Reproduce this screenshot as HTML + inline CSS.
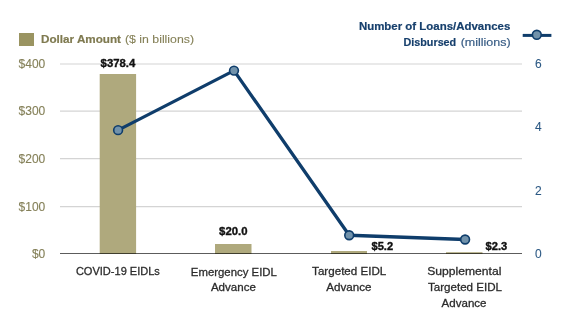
<!DOCTYPE html>
<html><head><meta charset="utf-8">
<style>
html,body{margin:0;padding:0;background:#fff;}
body{width:562px;height:325px;overflow:hidden;}
svg{display:block;will-change:transform;font-family:"Liberation Sans",sans-serif;}
</style></head>
<body>
<svg width="562" height="325" viewBox="0 0 562 325">
<!-- gridlines -->
<g stroke="#d4d4d4" stroke-width="1.2">
<line x1="60" y1="64" x2="522" y2="64"/>
<line x1="60" y1="111.2" x2="522" y2="111.2"/>
<line x1="60" y1="158.7" x2="522" y2="158.7"/>
<line x1="60" y1="206.6" x2="522" y2="206.6"/>
</g>
<!-- bars -->
<g fill="#afa97d">
<rect x="99.7" y="74" width="36.4" height="180"/>
<rect x="215" y="244" width="36.5" height="10"/>
<rect x="331" y="251" width="36" height="3"/>
<rect x="446" y="252.2" width="36.5" height="1.8"/>
</g>
<!-- axis -->
<line x1="60" y1="253.5" x2="522" y2="253.5" stroke="#5c5c5c" stroke-width="1" style="mix-blend-mode:multiply"/>
<!-- line series -->
<polyline points="118.1,130.15 234,70.6 349.2,235.25 465.1,239.5" fill="none" stroke="#0f3d6b" stroke-width="3.3" stroke-linejoin="round"/>
<g fill="#7192ab" stroke="#0f3d6b" stroke-width="1.6">
<circle cx="118.1" cy="130.15" r="4.4"/>
<circle cx="234" cy="70.6" r="4.4"/>
<circle cx="349.2" cy="235.25" r="4.4"/>
<circle cx="465.1" cy="239.5" r="4.4"/>
</g>
<!-- legend left -->
<rect x="19" y="33" width="15" height="13" fill="#9a9461"/>
<text x="41" y="43.0" font-size="11.7" fill="#7f7a50" stroke="#7f7a50" stroke-width="0.2"><tspan font-weight="bold" textLength="80" lengthAdjust="spacingAndGlyphs">Dollar Amount</tspan></text>
<text x="125" y="43.0" font-size="11.7" fill="#858058" stroke="#858058" stroke-width="0.1" textLength="69" lengthAdjust="spacingAndGlyphs">($ in billions)</text>
<!-- legend right -->
<text x="358.9" y="29.7" font-size="11.7" font-weight="bold" fill="#163f6c" stroke="#163f6c" stroke-width="0.2" textLength="151.4" lengthAdjust="spacingAndGlyphs">Number of Loans/Advances</text>
<text x="403.5" y="45.6" font-size="11.7" font-weight="bold" fill="#163f6c" stroke="#163f6c" stroke-width="0.2" textLength="52.7" lengthAdjust="spacingAndGlyphs">Disbursed</text>
<text x="460.7" y="45.6" font-size="11.7" fill="#3a5e86" stroke="#3a5e86" stroke-width="0.2" textLength="50" lengthAdjust="spacingAndGlyphs">(millions)</text>
<line x1="522.7" y1="35.4" x2="551.4" y2="35.4" stroke="#0f3d6b" stroke-width="3"/>
<circle cx="536.8" cy="34.8" r="4.4" fill="#7192ab" stroke="#0f3d6b" stroke-width="1.6"/>
<!-- left axis labels -->
<g font-size="12" fill="#858059" stroke="#858059" stroke-width="0.12" text-anchor="end">
<text x="45.3" y="67.5">$400</text>
<text x="45.3" y="114.9">$300</text>
<text x="45.3" y="162.6">$200</text>
<text x="45.3" y="210.5">$100</text>
<text x="45.3" y="257.8">$0</text>
</g>
<!-- right axis labels -->
<g font-size="12" fill="#2b5883" stroke="#2b5883" stroke-width="0.08">
<text x="535" y="67.8">6</text>
<text x="535" y="131">4</text>
<text x="535" y="194.7">2</text>
<text x="535" y="257.8">0</text>
</g>
<!-- data labels -->
<g font-size="10.9" font-weight="bold" fill="#111" stroke="#111" stroke-width="0.35">
<text x="100.6" y="67.4" textLength="34.6" lengthAdjust="spacingAndGlyphs">$378.4</text>
<text x="219.1" y="235.2" textLength="28.4" lengthAdjust="spacingAndGlyphs">$20.0</text>
<text x="371.5" y="249.7" textLength="21.6" lengthAdjust="spacingAndGlyphs">$5.2</text>
<text x="485.6" y="249.6" textLength="21.7" lengthAdjust="spacingAndGlyphs">$2.3</text>
</g>
<!-- category labels -->
<g font-size="11.2" fill="#2b2b2b" stroke="#2b2b2b" stroke-width="0.28">
<text x="75.9" y="275.1" textLength="84" lengthAdjust="spacingAndGlyphs">COVID-19 EIDLs</text>
<text x="190.8" y="275.7" textLength="86.1" lengthAdjust="spacingAndGlyphs">Emergency EIDL</text>
<text x="210.9" y="291.3" textLength="45" lengthAdjust="spacingAndGlyphs">Advance</text>
<text x="312.1" y="274.6" textLength="74.2" lengthAdjust="spacingAndGlyphs">Targeted EIDL</text>
<text x="326.3" y="290.6" textLength="45.2" lengthAdjust="spacingAndGlyphs">Advance</text>
<text x="427.2" y="274.8" textLength="74.2" lengthAdjust="spacingAndGlyphs">Supplemental</text>
<text x="428" y="291" textLength="74" lengthAdjust="spacingAndGlyphs">Targeted EIDL</text>
<text x="441.6" y="307.2" textLength="44.9" lengthAdjust="spacingAndGlyphs">Advance</text>
</g>
</svg>
</body></html>
